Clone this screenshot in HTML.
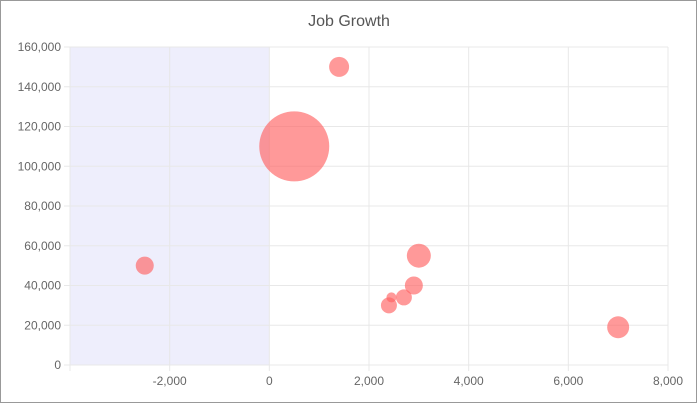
<!DOCTYPE html>
<html><head><meta charset="utf-8"><style>
body{margin:0;background:#fff}
#wrap{width:695px;height:401px;border:1px solid #999;position:relative}
svg text{font-family:"Liberation Sans",sans-serif}
</style></head><body>
<div id="wrap">
<svg id="chart" width="695" height="401">
<text x="348" y="25" text-anchor="middle" font-size="16" fill="#555">Job Growth</text>
</svg></div>
<script>
const xVals=[-2500,500,1400,3000,2900,2700,2450,2400,7000];
const yVals=[50000,110000,150000,55000,40000,34000,34000,30000,19000];
const rVals=[9,35,10,12,9,8,5,8,11];
const xTicks=[-2000,0,2000,4000,6000,8000];
const yTicks=[0,20000,40000,60000,80000,100000,120000,140000,160000];
const bandRange=[-4000,0];
const NS="http://www.w3.org/2000/svg";
const svg=document.getElementById('chart');
const X0=69,X1=667,Y0=364,Y1=46;
const sx=v=>X0+(v+4000)/12000*(X1-X0);
const sy=v=>Y0-v/160000*(Y0-Y1);
function mk(t,a){const e=document.createElementNS(NS,t);for(const k in a)e.setAttribute(k,a[k]);svg.appendChild(e);return e;}
const band=mk('rect',{x:sx(bandRange[0]),y:Y1,width:sx(bandRange[1])-sx(bandRange[0]),height:Y0-Y1,fill:'#eeeefc'});


yTicks.forEach(t=>{
 const l=mk('line',{x1:X0-6,x2:X1,y1:sy(t),y2:sy(t),stroke:'#e8e8e8'});
 
 
 const tx=mk('text',{x:X0-9,y:sy(t)+4,'text-anchor':'end','font-size':12,fill:'#666'});
 tx.textContent=t.toLocaleString('en-US');
 
 
});
[-4000].concat(xTicks).forEach(t=>{
 const l=mk('line',{x1:sx(t),x2:sx(t),y1:Y1,y2:Y0+6,stroke:'#e8e8e8'});
 
 
});
xTicks.forEach(t=>{
 const tx=mk('text',{x:sx(t),y:Y0+20,'text-anchor':'middle','font-size':12,fill:'#666'});
 tx.textContent=t.toLocaleString('en-US');
 
 
});
xVals.forEach((v,i)=>{
 const c=mk('circle',{cx:sx(v),cy:sy(yVals[i]),r:rVals[i],fill:'rgba(255,99,99,0.65)'});
 
 
});
</script></body></html>
